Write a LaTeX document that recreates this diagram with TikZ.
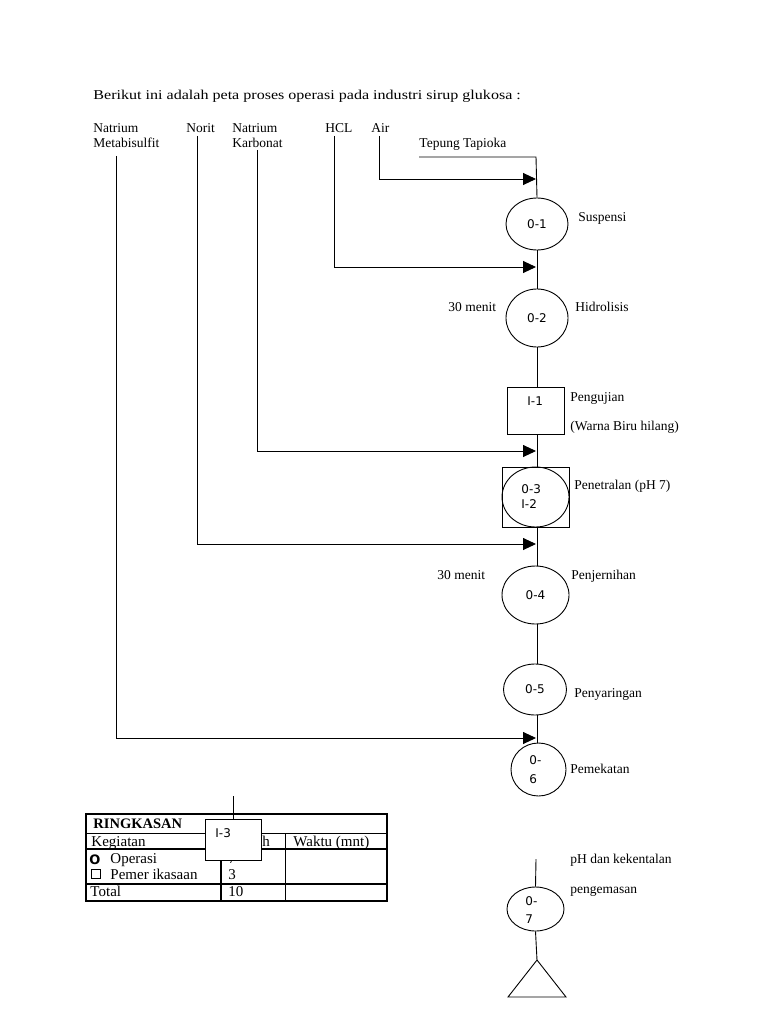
\documentclass[tikz,border=0pt]{standalone}
\usepackage{graphicx}
\usepackage{fontspec}
\setmainfont{Liberation Serif}
\newfontfamily\idfont{DejaVu Sans}
\usetikzlibrary{shapes.geometric,arrows.meta}
\begin{document}
\begin{tikzpicture}[x=1pt,y=-1pt,line width=0.9pt,
  lbl/.style={anchor=base west,inner sep=0pt,font=\fontsize{13.5}{15}\selectfont},
  tlbl/.style={anchor=base west,inner sep=0pt,font=\fontsize{15}{16}\selectfont},
  opn/.style={ellipse,draw,inner sep=0pt,align=left,font=\idfont\fontsize{12}{17}\selectfont},
  idtxt/.style={anchor=base west,inner sep=0pt,font=\idfont\fontsize{12}{14}\selectfont},
  boxshape/.style={rectangle,draw,inner sep=0pt},
  feed/.style={-{Triangle[length=13pt,width=12pt]}},
  tline/.style={line width=1.6pt},
  tthin/.style={line width=0.9pt}]
\useasboundingbox (0,0) rectangle (768,1024);

% title and source labels
\node[lbl] (title) at (93,100) {\scalebox{1.19}[1]{Berikut ini adalah peta proses operasi pada industri sirup glukosa :}};
\node[lbl] (nm1) at (93,133) {Natrium};
\node[lbl] (nm2) at (93,148) {Metabisulfit};
\node[lbl] (norit) at (186,133) {Norit};
\node[lbl] (nk1) at (232,133) {Natrium};
\node[lbl] (nk2) at (232,148) {Karbonat};
\node[lbl] (hcl) at (325,133) {HCL};
\node[lbl] (air) at (371,133) {Air};
\node[lbl] (tep) at (419,148) {Tepung Tapioka};

% source line tops
\coordinate (nmtop) at (116,156);
\coordinate (norittop) at (197,136);
\coordinate (nktop) at (257,150);
\coordinate (hcltop) at (334,136);
\coordinate (airtop) at (379,136);
\coordinate (teptop) at (419,157);
\coordinate (tepcorner) at (536,157);

% junctions on the main line
\coordinate (jair) at (536,179);
\coordinate (jhcl) at (536,267);
\coordinate (jnk) at (536,451);
\coordinate (jnorit) at (536,544);
\coordinate (jnm) at (536,738);

% process symbols
\node[opn,minimum width=62pt,minimum height=52pt] (o1) at (537,224) {0-1};
\node[opn,minimum width=62pt,minimum height=58pt] (o2) at (537,318) {0-2};
\node[boxshape,minimum width=57pt,minimum height=47pt] (i1) at (535.5,410.5) {};
\node[idtxt] (i1t) at (527,405) {I-1};
\node[boxshape,minimum width=67pt,minimum height=60pt] (o3box) at (535.5,497) {};
\node[opn,minimum width=67pt,minimum height=60pt] (o3) at (535.5,497) {};
\node[idtxt] (o3t) at (521,493) {0-3};
\node[idtxt] (i2t) at (521,508) {I-2};
\node[opn,minimum width=67pt,minimum height=58pt] (o4) at (535.5,595) {0-4};
\node[opn,minimum width=63pt,minimum height=51pt] (o5) at (535,689.5) {0-5};
\node[opn,minimum width=55pt,minimum height=53pt] (o6) at (538.5,769.5) {};
\node[idtxt] (o6a) at (529,764) {0-};
\node[idtxt] (o6b) at (529,783) {6};
\node[opn,minimum width=57pt,minimum height=44pt] (o7) at (535.5,909) {};
\node[idtxt] (o7a) at (525,905) {0-};
\node[idtxt] (o7b) at (525,923) {7};
\coordinate (o7top) at (536,859);
\coordinate (tri) at (537,960);
\draw (tri) -- (566,997) -- (508,997) -- cycle;

% side labels
\node[lbl] (sus) at (578,222) {Suspensi};
\node[lbl] (hid) at (575,311) {Hidrolisis};
\node[lbl] (m1) at (448,311) {30 menit};
\node[lbl] (pen1) at (570,401) {Pengujian};
\node[lbl] (pen2) at (570,430) {(Warna Biru hilang)};
\node[lbl] (net) at (574,489) {Penetralan (pH 7)};
\node[lbl] (m2) at (437,579) {30 menit};
\node[lbl] (jer) at (571,579) {Penjernihan};
\node[lbl] (say) at (574,697) {Penyaringan};
\node[lbl] (pek) at (570,773) {Pemekatan};
\node[lbl] (phk) at (570,863) {pH dan kekentalan};
\node[lbl] (kem) at (570,893) {pengemasan};

% main flow line
\draw (teptop) -- (tepcorner) -- (o1.north);
\draw (o1.south) -- (o2.north);
\draw (o2.south) -- (i1.north -| o2.south);
\draw (i1.south -| o2.south) -- (o3box.north -| o2.south);
\draw (o3box.south -| o2.south) -- (o4.north -| o2.south);
\draw (o4.south -| o2.south) -- (o5.north -| o2.south);
\draw (o5.south -| o2.south) -- (o6.north -| o2.south);
\draw (o7top) -- (o7.north);
\draw (o7.south) -- (tri);

% feed lines
\draw[feed] (airtop) |- (jair);
\draw[feed] (hcltop) |- (jhcl);
\draw[feed] (nktop) |- (jnk);
\draw[feed] (norittop) |- (jnorit);
\draw[feed] (nmtop) |- (jnm);

% summary table
\draw[tline] (86,814) rectangle (387,901);
\draw[tthin] (86,833) -- (387,833);
\draw[tline] (86,849) -- (387,849);
\draw[tline] (86,884) -- (387,884);
\draw[tline] (221,833) -- (221,901);
\draw[tthin] (285,833) -- (285,901);
\node[tlbl,font=\bfseries\fontsize{14.5}{15}\selectfont] (ring) at (93,828) {RINGKASAN};
\node[tlbl] (keg) at (91,846) {Kegiatan};
\node[tlbl] (jml) at (226,846) {Jumlah};
\node[tlbl] (wak) at (293,846) {Waktu (mnt)};
\node[anchor=base west,inner sep=0pt,font=\idfont\bfseries\fontsize{13}{15}\selectfont] (osym) at (89,864) {O};
\node[tlbl] (ops) at (110,863) {Operasi};
\node[tlbl] (nops) at (228,863) {7};
\node[boxshape,line width=0.7pt,minimum size=9pt] (psym) at (95.5,874) {};
\node[tlbl] (pem) at (110,879) {Pemer ikasaan};
\node[tlbl] (npem) at (228,879) {3};
\node[tlbl] (tot) at (90,896) {Total};
\node[tlbl] (ntot) at (228,896) {10};

% I-3 inspection box over the table
\node[boxshape,fill=white,minimum width=56pt,minimum height=41pt] (i3) at (233,839.5) {};
\node[idtxt] (i3t) at (215,837) {I-3};
\coordinate (i3top) at (233,796);
\draw (i3top) -- (i3.north);
\end{tikzpicture}
\end{document}
